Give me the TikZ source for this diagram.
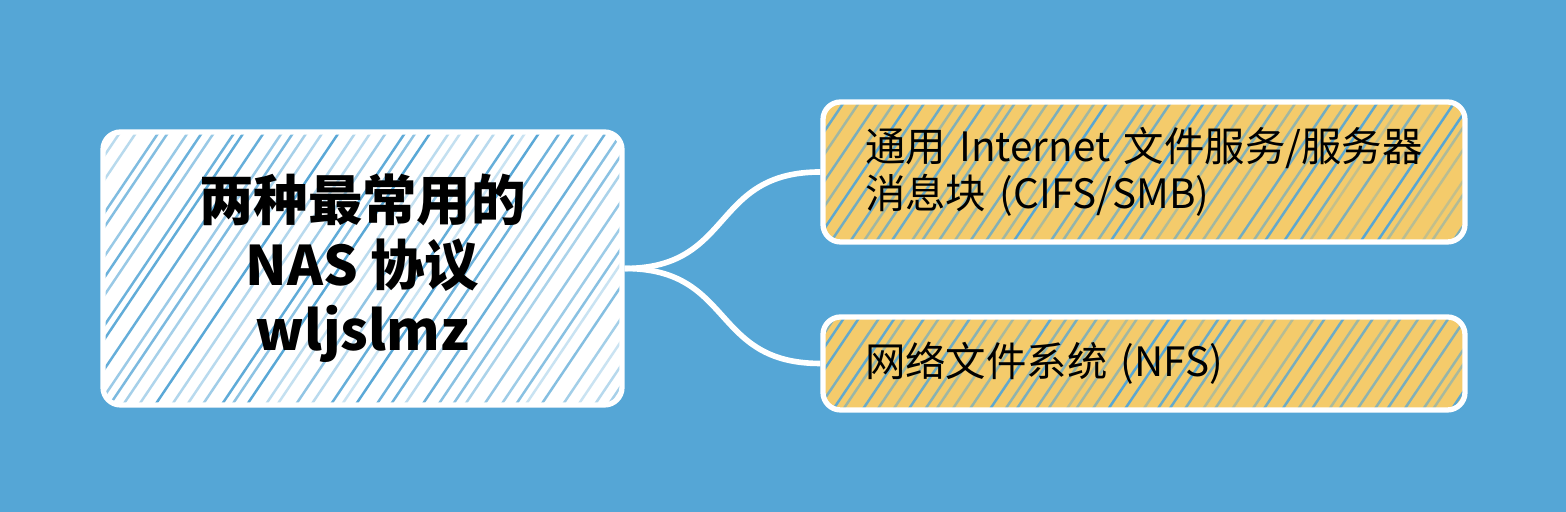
\documentclass[tikz,border=0pt]{standalone}
\usepackage{fontspec}
\setmainfont{Noto Sans CJK SC}
\definecolor{skyblue}{HTML}{55A6D6}
\definecolor{sand}{HTML}{F4CB6B}
\begin{document}
\begin{tikzpicture}[
	hatchbox/.style={draw=white, line width=1.5pt, rounded corners=5pt, inner sep=0pt,
		path picture={
			\foreach \k in {0,...,60} {
				\pgfmathsetmacro\op{0.3+0.7*rnd}
				\pgfmathsetmacro\sx{\k*0.155-2.6+0.08*rnd}
				\draw[skyblue, line width=0.7pt, opacity=\op] ([xshift=\sx cm]path picture bounding box.south west) -- ++(56:3.6);
			}
		}},
	mainbox/.style={hatchbox, fill=white, minimum width=5.19cm, minimum height=2.73cm, align=center,
		font=\fontsize{15.5}{18.5}\selectfont\bfseries},
	subbox/.style={hatchbox, fill=sand, minimum width=6.42cm, text width=5.58cm, align=left,
		font=\fontsize{11.5}{13.5}\selectfont},
	link/.style={draw=white, line width=1.6pt}
]
	\fill[skyblue] (0,0) rectangle (15.66,5.12);
	\useasboundingbox (0,0) rectangle (15.66,5.12);

	\node[mainbox] (nas) at (3.625,2.435) {两种最常用的\\NAS 协议\\wljslmz};

	\node[subbox, minimum height=1.40cm] (cifs) at (11.44,3.40) {通用 Internet 文件服务/服务器\\消息块 (CIFS/SMB)};
	\node[subbox, minimum height=0.93cm] (nfs) at (11.44,1.485) {网络文件系统 (NFS)};

	\draw[link] (nas.east) .. controls +(1.1,0) and +(-1.1,0) .. (cifs.west);
	\draw[link] (nas.east) .. controls +(1.1,0) and +(-1.1,0) .. (nfs.west);
\end{tikzpicture}
\end{document}
